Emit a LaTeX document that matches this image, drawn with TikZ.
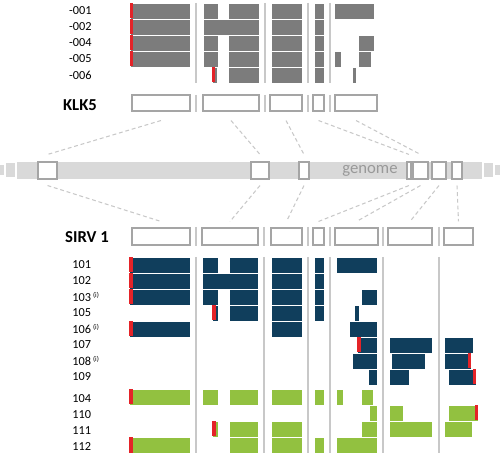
\documentclass[tikz,border=0pt]{standalone}
\usepackage{fontspec}
\setmainfont{Carlito}
\usepackage{xcolor}
\usepackage{tikz}
\usetikzlibrary{fit}
\definecolor{klkgray}{RGB}{124,124,124}
\definecolor{sirvblue}{RGB}{16,62,92}
\definecolor{sirvgreen}{RGB}{146,193,64}
\definecolor{tipred}{RGB}{228,35,40}
\definecolor{genomegray}{RGB}{217,217,217}
\definecolor{boxline}{RGB}{165,165,165}
\definecolor{sepline}{RGB}{200,200,200}
\newcommand{\iso}{\,\raisebox{2pt}{\fontsize{4}{4}\selectfont(i)}}

\begin{document}
\begin{tikzpicture}[x=0.02cm,y=-0.02cm,
    exon/.style={draw=boxline,fill=white,line width=0.6pt,inner sep=0pt},
    klkbar/.style={fill=klkgray,draw=white,line width=0.4pt},
    bluebar/.style={fill=sirvblue,draw=white,line width=0.4pt},
    greenbar/.style={fill=sirvgreen,draw=white,line width=0.4pt},
    redtip/.style={fill=tipred},
    sepln/.style={draw=sepline,line width=0.7pt},
    link/.style={draw=sepline,line width=0.6pt,dash pattern=on 2.2pt off 1.6pt},
    lbl/.style={inner sep=0pt,font=\fontsize{7}{8}\selectfont},
    gene/.style={inner sep=0pt,font=\fontsize{9.5}{10}\selectfont\bfseries}]
  \useasboundingbox (0,0) rectangle (500,455);

  % separators
  \foreach \x in {196,265,308,330} {
    \draw[sepln] (\x,3) -- (\x,83);
    \draw[sepln] (\x,95) -- (\x,112);
  }
  \foreach \x in {196,264,308,330,383,439} {
    \draw[sepln] (\x,227) -- (\x,246);
    \draw[sepln] (\x,257) -- (\x,453);
  }

  % KLK5 transcripts
  \foreach \t/\r in {-001/0,-002/1,-004/2,-005/3,-006/4}
    \node[lbl,anchor=east] (t\r) at (92,{11+16*\r}) {\t};
  \foreach \a/\b/\r in {130/190/0,203/218/0,228/259/0,271/302/0,314/324/0,334/374/0,
      130/190/1,203/259/1,271/302/1,314/324/1,
      130/190/2,203/218/2,228/259/2,271/302/2,314/324/2,358/374/2,
      130/190/3,203/218/3,228/259/3,271/302/3,314/324/3,334/341/3,358/371/3,
      212/217/4,228/259/4,271/302/4,314/324/4,352/356/4}
    \draw[klkbar] (\a,{3+16*\r}) rectangle (\b,{19+16*\r});
  \foreach \a/\b/\r in {130/133/0,130/133/1,130/133/2,130/133/3,212/215/4}
    \fill[redtip] (\a,{3.5+16*\r}) rectangle (\b,{18.5+16*\r});

  % annotation boxes
  \node[gene] (klk) at (80,105) {KLK5};
  \node[exon,fit={(132,95) (190,111)}] (k1) {};
  \node[exon,fit={(203,95) (259,111)}] (k2) {};
  \node[exon,fit={(270,95) (302,111)}] (k3) {};
  \node[exon,fit={(313,95) (324,111)}] (k4) {};
  \node[exon,fit={(335,95) (377,111)}] (k5) {};

  % genome
  \fill[genomegray] (0,165) rectangle (4,175);
  \fill[genomegray] (6,163) rectangle (15,177);
  \fill[genomegray] (17,162) rectangle (482,179);
  \fill[genomegray] (484,163) rectangle (493,177);
  \fill[genomegray] (495,165) rectangle (500,175);
  \node[inner sep=0pt,text=gray!80,font=\fontsize{9.5}{10}\selectfont] (gen) at (370,171) {genome};
  \node[exon,fit={(38,162) (57,179)}] (g1) {};
  \node[exon,fit={(251,162) (269,179)}] (g2) {};
  \node[exon,fit={(299,162) (309,179)}] (g3) {};
  \node[exon,fit={(407,162) (411,179)}] (g4) {};
  \node[exon,fit={(413,162) (428,179)}] (g5) {};
  \node[exon,fit={(432,162) (446,179)}] (g6) {};
  \node[exon,fit={(452,162) (462,179)}] (g7) {};

  \node[gene] (sirv) at (87,237) {SIRV 1};
  \node[exon,fit={(132,228) (190,245)}] (s1) {};
  \node[exon,fit={(202,228) (258,245)}] (s2) {};
  \node[exon,fit={(271,228) (302,245)}] (s3) {};
  \node[exon,fit={(313,228) (324,245)}] (s4) {};
  \node[exon,fit={(335,228) (378,245)}] (s5) {};
  \node[exon,fit={(388,228) (432,245)}] (s6) {};
  \node[exon,fit={(444,228) (473,245)}] (s7) {};

  % dashed links
  \foreach \k/\g in {1/1,2/2,3/3,4/4,5/5}
    \draw[link] ([yshift=-0.18cm]k\k.south) -- ([yshift=0.14cm]g\g.north);
  \foreach \g/\s in {1/1,2/2,3/3,4/4,5/5,6/6,7/7}
    \draw[link] ([yshift=-0.12cm]g\g.south) -- ([yshift=0.12cm]s\s.north);

  % SIRV transcripts
  \foreach \t/\r in {101/0,102/1,103\iso/2,105/3,106\iso/4,107/5,108\iso/6,109/7}
    \node[lbl,anchor=west] (n\r) at (72,{265+16*\r}) {\t};
  \foreach \t/\r in {104/0,110/1,111/2,112/3}
    \node[lbl,anchor=west] (m\r) at (72,{398.5+16*\r}) {\t};

  \foreach \a/\b/\r in {129/190/0,202/218/0,229/258/0,271/302/0,314/324/0,336/377/0,
      129/190/1,202/258/1,271/302/1,314/324/1,
      129/190/2,202/218/2,229/258/2,271/302/2,314/324/2,361/377/2,
      212/218/3,229/258/3,271/302/3,314/324/3,354/359/3,
      129/190/4,271/302/4,349/377/4,
      357/377/5,389/432/5,444/473/5,
      352/377/6,391/425/6,444/471/6,
      368/377/7,389/409/7,448/476/7}
    \draw[bluebar] (\a,{257+16*\r}) rectangle (\b,{273+16*\r});
  \foreach \a/\b/\r in {129/133/0,129/133/1,129/133/2,129/133/4,212/216/3,
      357/361/5,468/471/6,473/476/7}
    \fill[redtip] (\a,{257.5+16*\r}) rectangle (\b,{272.5+16*\r});

  \foreach \a/\b/\r in {129/190/0,202/218/0,229/258/0,271/302/0,314/324/0,336/343/0,361/373/0,
      369/377/1,389/403/1,448/478/1,
      212/218/2,229/258/2,271/302/2,361/377/2,389/432/2,444/472/2,
      129/190/3,229/258/3,271/302/3,314/324/3,336/377/3}
    \draw[greenbar] (\a,{389+16*\r}) rectangle (\b,{405+16*\r});
  \foreach \a/\b/\r in {129/133/0,129/133/3,475/478/1,212/216/2}
    \fill[redtip] (\a,{389.5+16*\r}) rectangle (\b,{404.5+16*\r});
\end{tikzpicture}
\end{document}
